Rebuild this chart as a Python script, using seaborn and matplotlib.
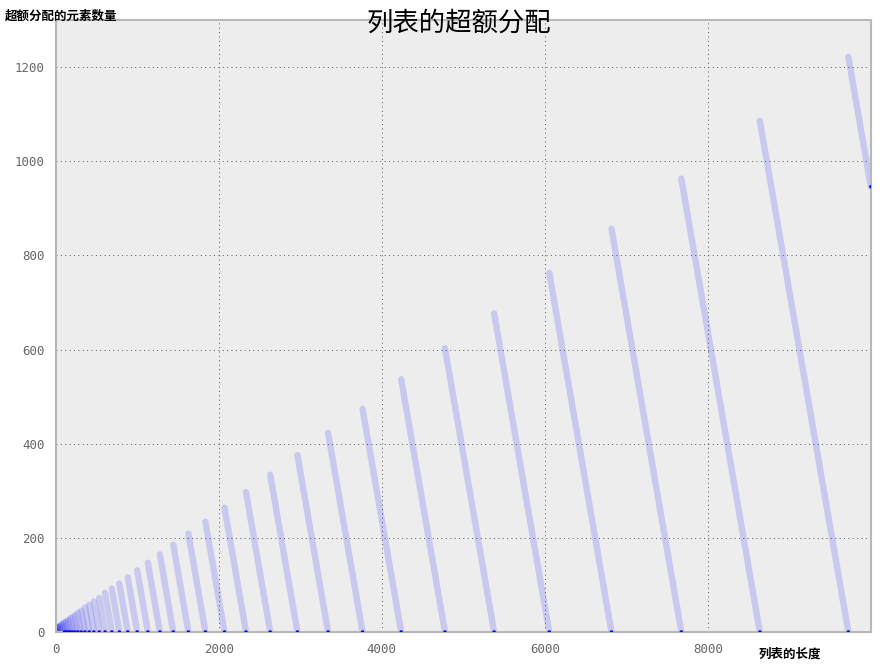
import pandas as pd
import matplotlib
matplotlib.use("Agg")
import matplotlib.pyplot as plt
import seaborn as sns

# list length at each re-allocation
sizes = [0, 4, 8, 16, 25, 36, 47, 59, 73, 89, 107, 128, 150, 175, 204, 236,
         272, 313, 358, 410, 468, 533, 605, 688, 780, 883, 999, 1130, 1277,
         1442, 1627, 1836, 2070, 2334, 2631, 2965, 3341, 3764, 4238, 4775,
         5378, 6055, 6818, 7675, 8638, 9724]
# over-allocated slots right after each re-allocation
peaks = [4, 4, 8, 9, 11, 11, 12, 14, 16, 18, 21, 22, 25, 29, 32, 36, 41, 45,
         52, 58, 65, 72, 83, 92, 103, 116, 131, 147, 165, 185, 209, 234, 264,
         297, 334, 376, 423, 474, 537, 603, 677, 763, 857, 963, 1086, 1222]
x_max = 10000
tail_value = 946

title = "列表的超额分配"
xlabel = "列表的长度"
ylabel = "超额分配的元素数量"
xticks = [0, 2000, 4000, 6000, 8000]
yticks = [0, 200, 400, 600, 800, 1000, 1200]

ends = sizes[1:] + [x_max]
end_vals = [0] * (len(sizes) - 1) + [tail_value]

rows = []
for i in range(len(sizes)):
    rows.append([i, sizes[i], peaks[i]])
    rows.append([i, ends[i], end_vals[i]])
df = pd.DataFrame(rows, columns=["seg", "length", "extra"])
dots = pd.DataFrame({"length": ends, "extra": end_vals})
dots = dots[dots["length"] > 100]

sns.set_style("white")
plt.rcParams["font.family"] = ["Noto Sans CJK SC", "DejaVu Sans"]

fig = plt.figure(figsize=(8.85, 6.68), dpi=100)
ax = fig.add_axes([0.063, 0.054, 0.921, 0.916])
ax.set_facecolor("#ededed")

sns.lineplot(data=df, x="length", y="extra", units="seg", estimator=None,
             color="blue", alpha=0.15, lw=4.6, solid_capstyle="round", ax=ax)
sns.scatterplot(data=dots, x="length", y="extra", color="blue", s=6,
                edgecolor="none", ax=ax, zorder=3)

ax.set_xlim(0, x_max)
ax.set_ylim(0, 1300)
ax.set_xticks(xticks)
ax.set_yticks(yticks)
ax.set_xticklabels([str(t) for t in xticks], family="DejaVu Sans Mono",
                   fontsize=9, color="#666666")
ax.set_yticklabels([str(t) for t in yticks], family="DejaVu Sans Mono",
                   fontsize=9, color="#666666")
ax.tick_params(direction="in", length=2, width=0.8, color="#555555", pad=8)
ax.grid(True, color="#555555", linestyle=(0, (1, 3.5)), linewidth=0.7)
ax.set_axisbelow(True)
for s in ax.spines.values():
    s.set_color("#b8b8b8")
    s.set_linewidth(1.5)
ax.set_xlabel("")
ax.set_ylabel("")

fig.text(0.518, 0.965, title, ha="center", va="center", fontsize=19,
         color="black")
fig.text(0.006, 0.976, ylabel, ha="left", va="center", fontsize=9,
         fontweight="bold", color="black")
fig.text(0.892, 0.021, xlabel, ha="center", va="center", fontsize=9,
         fontweight="bold", color="black")

fig.savefig("out.png", dpi=100)
